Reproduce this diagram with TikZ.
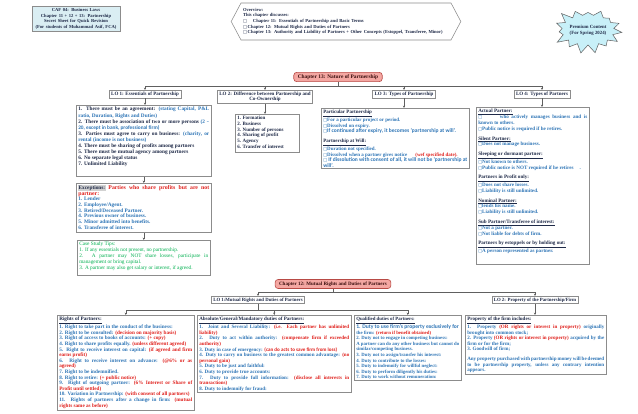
\documentclass[tikz,border=0pt]{standalone}
\usepackage{fontspec}
\setmainfont{Liberation Serif}
\newfontfamily\carl{Carlito}
\newfontfamily\djv{DejaVu Sans}
\usetikzlibrary{shapes.symbols,shapes.misc,arrows.meta}
\definecolor{navy}{HTML}{1F2A48}
\definecolor{blueT}{HTML}{2E75B6}
\definecolor{redT}{HTML}{E0201C}
\definecolor{greenT}{HTML}{00B050}
\definecolor{boxgray}{HTML}{8C8C8C}
\definecolor{linegray}{HTML}{606060}
\definecolor{hdrfill}{HTML}{DAEEF3}
\definecolor{pinkf}{HTML}{F4A7A2}
\definecolor{pinkd}{HTML}{B84A45}
\definecolor{chtext}{HTML}{3A0E0E}
\definecolor{starfill}{HTML}{C8F0F8}
\hyphenpenalty=10000
\exhyphenpenalty=10000
\tolerance=3000
\emergencystretch=4pt
\newcommand\cb{{\djv\fontsize{4.2}{4}\selectfont □}}
\newcommand\cont[3]{\parbox[c][#2][t]{#1}{#3}}
\newcommand\rd[1]{{\color{redT}#1}}
\newcommand\hd[1]{\underline{#1}\par}
\newcommand\itm[1]{{\color{blueT}\cb#1\par}}
\newcommand\gap{\vspace{4pt}}
\begin{document}
\begin{tikzpicture}[x=1pt,y=-1pt,
  conn/.style={draw=linegray, line width=0.45pt},
  arr/.style={conn, -{Stealth[length=2.4pt,width=2.2pt]}},
  cbox/.style={draw=boxgray, line width=0.55pt, fill=white, inner sep=2pt, anchor=north west, text=navy},
  lohd/.style={draw=boxgray, line width=0.55pt, fill=white, inner xsep=2pt, inner ysep=1.5pt, font=\fontsize{5}{5.6}\selectfont\bfseries, text=navy, align=center, anchor=north},
  chhd/.style={draw=pinkd, line width=0.6pt, fill=pinkf, rounded corners=3pt, inner xsep=4pt, inner ysep=2.2pt, font=\fontsize{5}{6}\selectfont\bfseries, text=chtext},
]
\useasboundingbox (0,0) rectangle (638,414);
\fill[white] (0,0) rectangle (638,414);

% ---------- top header ----------
\node[draw=boxgray, line width=0.55pt, fill=hdrfill, text width=84pt, align=center, inner sep=1.8pt,
      font=\fontsize{4.6}{5.6}\selectfont\bfseries, text=navy] (title) at (76,19)
  {CAF 04: Business Laws\\Chapter 11 + 12 + 13: Partnership\\Secret Sheet for Quick Revision\\(For students of Muhammad Asif, FCA)};

\node[signal, signal to=east and west, signal pointer angle=124, draw=boxgray, line width=0.55pt, fill=white,
      text width=206pt, align=left, inner sep=2pt, minimum height=37pt,
      font=\fontsize{4.6}{5.6}\selectfont\bfseries, text=navy] (overview) at (346,21.5)
  {Overview:\\This chapter discusses:\\\cb\hspace{6pt}Chapter 11: Essentials of Partnership and Basic Terms\\\cb\,Chapter 12: Mutual Rights and Duties of Partners\\\cb\,Chapter 13: Authority and Liability of Partners + Other Concepts (Estoppel, Transferee, Minor)};

\node[starburst, starburst points=15, starburst point height=10pt, random starburst=23, draw=linegray, line width=0.5pt,
      fill=starfill, minimum width=58pt, minimum height=50pt, inner sep=0pt, align=center,
      font=\fontsize{4.8}{5.8}\selectfont\bfseries, text=navy] (premium) at (588,30)
  {Premium Content\\(For Spring 2024)};

% ---------- Chapter 13 ----------
\node[chhd, font=\fontsize{5.4}{6}\selectfont\bfseries] (c13) at (338,77) {Chapter 13: Nature of Partnership};
\coordinate (bus13) at (0,86);
\node[lohd] (lo1) at (145,90) {LO 1: Essentials of Partnership};
\node[lohd] (lo2) at (265,90) {LO 2: Difference between Partnership and\\Co-Ownership};
\node[lohd] (lo3) at (404,90) {LO 3: Types of Partnership};
\node[lohd] (lo4) at (542,90) {LO 4: Types of Partners};
\foreach \n in {lo1,lo2,lo3,lo4}
  \draw[arr] (c13.south) -- (c13.south |- bus13) -| (\n.north);

\node[cbox, font=\fontsize{5.3}{6.1}\selectfont\bfseries] (lo1c) at (76,105) {\cont{131pt}{67pt}{%
1. There must be an agreement: {\color{blueT}(stating Capital, P\&L ratio, Duration, Rights and Duties)}\par
2. There must be association of two or more persons {\color{blueT}(2 {\carl – 20, except in bank, professional firm)}}\par
3. Parties must agree to carry on business: {\color{blueT}(charity, or rental (income is not business)}\par
4. There must be sharing of profits among partners\par
5. There must be mutual agency among partners\par
6. No separate legal status\par
7. Unlimited Liability}};

\node[cbox, font=\fontsize{5.3}{5.7}\selectfont\bfseries] (exc) at (76,183) {\cont{131pt}{45pt}{%
{\setlength\fboxsep{0.4pt}\colorbox{gray!35}{Exceptions:}} \rd{\fontsize{5.8}{5.7}\selectfont Parties who share profits but are not partner:}\par
{\color{blueT}1. Lender\par
2. Employee/Agent.\par
3. Retired/Deceased Partner.\par
4. Previous owner of business.\par
5. Minor admitted into benefits.\par
6. Transferee of interest.\par}}};

\node[cbox, font=\fontsize{5.3}{6}\selectfont, text=greenT] (case) at (77,240) {\cont{129pt}{31pt}{%
Case Study Tips:\par
1. If any essentials not present, no partnership.\par
2. A partner may NOT share losses, participate in management or bring capital.\par
3. A partner may also get salary or interest, if agreed.}};

\node[cbox, font=\fontsize{5}{5.7}\selectfont\bfseries] (lo2c) at (235,114) {\cont{60pt}{34pt}{\raggedright
1. Formation\par
2. Business\par
3. Number of persons\par
4. Sharing of profit\par
5. Agency\par
6. Transfer of interest}};

\node[cbox, font=\fontsize{5}{5.8}\selectfont\bfseries] (lo3c) at (321,108) {\cont{144pt}{56pt}{%
\hd{Particular Partnership}
\itm{For a particular project or period.}
\itm{Dissolved on expiry.}
\itm{{\carl\fontsize{5.5}{5.8}\selectfont If continued after expiry, it becomes ‘partnership at will’.}}
\gap
\hd{Partnership at Will:}
\itm{Duration not specified.}
\itm{Dissolved when a partner gives notice\hspace{8pt}\rd{(wef specified date).}}
\itm{{\carl\fontsize{5.5}{5.8}\selectfont\ If dissolution with consent of all, it will not be ‘partnership at will’.}}}};

\node[cbox, font=\fontsize{5.1}{5.8}\selectfont\bfseries] (lo4c) at (476,107) {\cont{109pt}{153pt}{%
\hd{Actual Partner:}
\itm{\hspace{15pt} who actively manages business and is known to others.}
\itm{Public notice is required if he retires.}
\gap
\hd{Silent Partner:}
\itm{Does not manage business.}
\gap
\hd{Sleeping or dormant partner:}
\itm{Not known to others.}
\itm{Public notice is NOT required if he retires\hspace{6pt}.}
\gap
\hd{Partners in Profit only:}
\itm{Does not share losses.}
\itm{Liability is still unlimited.}
\gap
\hd{Nominal Partner:}
\itm{lends his name.}
\itm{Liability is still unlimited.}
\gap
\hd{Sub Partner/Transferee of interest:}
\itm{Not a partner.}
\itm{Not liable for debts of firm.}
\gap
\hd{Partners by estoppels or by holding out:}
\itm{A person represented as partner.}}};

\draw[arr] (lo1.south) -- (lo1.south |- lo1c.north);
\draw[arr] (lo2.south) -- (lo2.south |- lo2c.north);
\draw[arr] (lo3.south) -- (lo3.south |- lo3c.north);
\draw[arr] (lo4.south) -- (lo4.south |- lo4c.north);
\draw[arr] (lo1c.south) -- (lo1c.south |- exc.north);
\draw[arr] (exc.south) -- (exc.south |- case.north);

% ---------- Chapter 12 ----------
\node[chhd] (c12) at (333,284) {Chapter 12: Mutual Rights and Duties of Partners};
\coordinate (bus12) at (0,292);
\coordinate (bus12b) at (0,310);
\node[lohd, font=\fontsize{4.8}{5.4}\selectfont\bfseries] (lo21) at (258,296) {LO 1:Mutual Rights and Duties of Partners};
\node[lohd, font=\fontsize{4.8}{5.4}\selectfont\bfseries] (lo22) at (535,296) {LO 2: Property of the Partnership/Firm};
\draw[arr] (c12.south) -- (c12.south |- bus12) -| (lo21.north);
\draw[arr] (c12.south) -- (c12.south |- bus12) -| (lo22.north);

\node[cbox, font=\fontsize{5.2}{5.6}\selectfont\bfseries] (rights) at (57,315) {\cont{133pt}{91pt}{%
\hd{Rights of Partners:}
\color{blueT}
1. Right to take part in the conduct of the business:\par
2. Right to be consulted: \rd{(decision on majority basis)}\par
3. Right of access to books of accounts: \rd{(+ copy)}\par
4. Right to share profits equally. \rd{(unless different agreed)}\par
5. Right to receive interest on capital: \rd{(if agreed and firm earns profit)}\par
6. Right to receive interest on advance: \rd{(@6\% or as\linebreak agreed)}\par
7. Right to be indemnified.\par
8. Right to retire: \rd{(+ public notice)}\par
9. Right of outgoing partner: \rd{(6\% Interest or Share of\linebreak Profit until settled)}\par
10. Variation in Partnership: \rd{(with consent of all partners)}\par
11. Rights of partners after a change in firm: \rd{(mutual\linebreak rights same as before)}}};

\node[cbox, font=\fontsize{5.05}{5.65}\selectfont\bfseries] (abs) at (197,315) {\cont{150pt}{73pt}{%
\hd{Absolute/General/Mandatory duties of Partners:}
\color{blueT}
1. Joint and Several Liability: \rd{(i.e. Each partner has unlimited liability)}\par
2. Duty to act within authority: \rd{(compensate firm if exceeded authority)}\par
3. Duty in case of emergency: \rd{\carl(can do acts to save firm from loss)}\par
4. Duty to carry on business to the greatest common advantage: \rd{(no personal gain)}\par
5. Duty to be just and faithful:\par
6. Duty to provide true accounts:\par
7. Duty to provide full information: \rd{(disclose all interests in transactions)}\par
8. Duty to indemnify for fraud:}};

\node[cbox, font=\fontsize{4.8}{5.6}\selectfont\bfseries] (qual) at (354,315) {\cont{103pt}{61pt}{%
\hd{Qualified duties of Partners:}
\color{blueT}
{\carl\fontsize{5.6}{5.6}\selectfont 1. Duty to use firm’s property exclusively for}\newline the firm: \rd{(return if benefit obtained)}\par
2. Duty not to engage in competing business:\par
A partner can do any other business but cannot do similar/competing business.\par
3. Duty not to assign/transfer his interest:\par
4. Duty to contribute to the losses:\par
5. Duty to indemnify for willful neglect:\par
6. Duty to perform diligently his duties:\par
7. Duty to work without remuneration:}};

\node[cbox, font=\fontsize{5.05}{5.6}\selectfont\bfseries] (prop) at (465,315) {\cont{137pt}{55pt}{%
\hd{Property of the firm includes:}
\color{blueT}
1. Property \rd{(OR rights or interest in property)} originally brought into common stock;\par
2. Property \rd{(OR rights or interest in property)} acquired by the firm or for the firm;\par
3. Goodwill of firm;\par
\gap
Any property purchased with partnership money will be deemed to be partnership property, unless any contrary intention appears.}};

\foreach \n in {rights,abs,qual}
  \draw[arr] (lo21.south) -- (lo21.south |- bus12b) -| (\n.north);
\draw[arr] (lo22.south) -- (lo22.south |- prop.north);
\end{tikzpicture}
\end{document}
